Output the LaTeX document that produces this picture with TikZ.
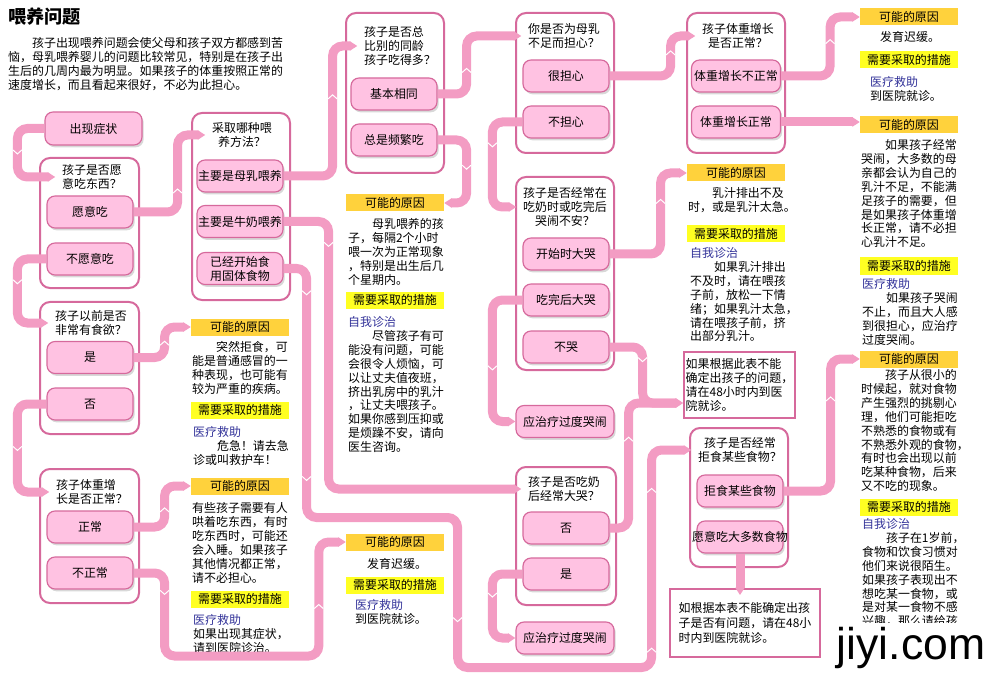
\documentclass[tikz,border=0pt]{standalone}
\usepackage{fontspec}
\setmainfont{Noto Sans CJK SC}
\newfontfamily\wmfont{Liberation Sans}
\usetikzlibrary{arrows.meta,calc,shadows,decorations.markings}
\definecolor{bandpink}{HTML}{F39CC3}
\definecolor{edgepink}{HTML}{D6699C}
\definecolor{btnpink}{HTML}{FFC2E2}
\definecolor{whyyellow}{HTML}{FFD23C}
\definecolor{actyellow}{HTML}{FFFF22}
\definecolor{navy}{HTML}{333399}
\tikzset{grp/.style = {draw=edgepink, line width=0.6mm, rounded corners=3mm,
                       fill=white, minimum width=29.7mm},
         btn/.style = {draw=edgepink, line width=0.35mm, rounded corners=2.4mm,
                       fill=btnpink, minimum width=25.8mm, minimum height=9.6mm,
                       inner sep=0pt, align=center,
                       drop shadow={shadow xshift=0.5mm, shadow yshift=-0.7mm,
                                    fill=black!30}},
         ques/.style = {align=center, inner xsep=2mm, inner ysep=0pt},
         head/.style = {minimum width=29.4mm, minimum height=5.1mm, inner sep=0pt},
         why/.style = {head, fill=whyyellow},
         act/.style = {head, fill=actyellow},
         txt/.style = {align=left, inner sep=0pt, anchor=north west},
         note/.style = {draw=edgepink, line width=0.6mm, fill=white, align=left},
         band/.style = {draw=bandpink, line width=2.7mm, rounded corners=3mm,
                        -{Triangle[length=2.2mm, width=2.7mm]}},
         chev/.style = {postaction={decorate, decoration={markings,
                        mark=at position #1 with {\draw[white, line width=0.3mm,
                        sharp corners, -] (-0.9mm,-1.35mm) -- (0.3mm,0) -- (-0.9mm,1.35mm);}}}}}
\begin{document}
\begin{tikzpicture}[x=0.3mm, y=-0.3mm, font=\fontsize{10.2}{11.9}\selectfont]
  \useasboundingbox (0,0) rectangle (997,675);

  \node[anchor=west, inner sep=0pt, font=\fontsize{15.5}{16}\selectfont\bfseries] (title) at (8,17) {喂养问题};
  \node[txt] (intro) at (8,37) {\hspace*{2em}孩子出现喂养问题会使父母和孩子双方都感到苦\\恼，母乳喂养婴儿的问题比较常见，特别是在孩子出\\生后的几周内最为明显。如果孩子的体重按照正常的\\速度增长，而且看起来很好，不必为此担心。};

  \node[btn, minimum width=29.1mm, minimum height=9.9mm] (sym) at (93.5,128.5) {出现症状};
  \node[grp, minimum height=39mm] (g1) at (89.5,223) {};
  \node[ques] (q1) at (92,177) {孩子是否愿\\意吃东西？};
  \node[btn] (yes1) at (90,212) {愿意吃};
  \node[btn] (no1) at (90,259) {不愿意吃};
  \node[grp, minimum height=39.6mm] (g2) at (89.5,368) {};
  \node[ques] (q2) at (91,323) {孩子以前是否\\非常有食欲？};
  \node[btn] (yes2) at (90,357.5) {是};
  \node[btn] (no2) at (90,404) {否};
  \node[grp, minimum height=40.2mm] (g3) at (89.5,536) {};
  \node[ques, align=left] (q3) at (92,492) {孩子体重增\\长是否正常？};
  \node[btn] (norm) at (90,527) {正常};
  \node[btn] (abn) at (90,573) {不正常};

  \node[grp, minimum width=29.4mm, minimum height=56.1mm] (g4) at (241,206.5) {};
  \node[ques] (q4) at (242,135) {采取哪种喂\\养方法？};
  \node[btn] (breast) at (240,176) {主要是母乳喂养};
  \node[btn] (bottle) at (240,221.5) {主要是牛奶喂养};
  \node[btn] (solid) at (240,268.5) {已经开始食\\用固体食物};
  \node[why] (why1) at (240,327) {可能的原因};
  \node[txt] (t1) at (192,341) {\hspace*{2em}突然拒食，可\\能是普通感冒的一\\种表现，也可能有\\较为严重的疾病。};
  \node[act] (act1) at (240,410) {需要采取的措施};
  \node[txt] (t2) at (193,426) {\textcolor{navy}{医疗救助}\\\hspace*{2em}危急！请去急\\诊或叫救护车！};
  \node[why] (why2) at (240,486) {可能的原因};
  \node[txt] (t3) at (192,502) {有些孩子需要有人\\哄着吃东西，有时\\吃东西时，可能还\\会入睡。如果孩子\\其他情况都正常，\\请不必担心。};
  \node[act] (act2) at (240,599) {需要采取的措施};
  \node[txt] (t4) at (193,614) {\textcolor{navy}{医疗救助}\\如果出现其症状，\\请到医院诊治。};

  \node[grp, minimum width=29.4mm, minimum height=48mm] (g5) at (395,93) {};
  \node[ques, align=left] (q5) at (400,46) {孩子是否总\\比别的同龄\\孩子吃得多？};
  \node[btn] (same) at (394,94) {基本相同};
  \node[btn] (often) at (394,140) {总是频繁吃};
  \node[why] (why3) at (395,203) {可能的原因};
  \node[txt] (t5) at (348,218) {\hspace*{2em}母乳喂养的孩\\子，每隔2个小时\\喂一次为正常现象\\，特别是出生后几\\个星期内。};
  \node[act] (act3) at (395,300) {需要采取的措施};
  \node[txt] (t6) at (348,316) {\textcolor{navy}{自我诊治}\\\hspace*{2em}尽管孩子有可\\能没有问题，可能\\会很令人烦恼，可\\以让丈夫值夜班，\\挤出乳房中的乳汁\\，让丈夫喂孩子。\\如果你感到压抑或\\是烦躁不安，请向\\医生咨询。};
  \node[why] (why4) at (395,542) {可能的原因};
  \node[anchor=west, inner sep=0pt] (t7) at (367,564) {发育迟缓。};
  \node[act] (act4) at (395,585) {需要采取的措施};
  \node[txt] (t8) at (355,599) {\textcolor{navy}{医疗救助}\\到医院就诊。};

  \node[grp, minimum width=29.4mm, minimum height=42mm] (g6) at (565,83) {};
  \node[ques] (q6) at (564,36) {你是否为母乳\\不足而担心？};
  \node[btn] (worry) at (566,76) {很担心};
  \node[btn] (noworry) at (566,122) {不担心};
  \node[grp, minimum width=29.4mm, minimum height=57.9mm] (g7) at (565,273.5) {};
  \node[ques] (q7) at (565,207) {孩子是否经常在\\吃奶时或吃完后\\哭闹不安？};
  \node[btn] (start) at (566,254) {开始时大哭};
  \node[btn] (after) at (566,300) {吃完后大哭};
  \node[btn] (none) at (566,347) {不哭};
  \node[btn, minimum width=29.4mm] (treat1) at (565,421.5) {应治疗过度哭闹};
  \node[grp, minimum width=30mm, minimum height=41.4mm] (g8) at (566,536) {};
  \node[ques] (q8) at (564,489) {孩子是否吃奶\\后经常大哭？};
  \node[btn] (c4no) at (566,528) {否};
  \node[btn] (c4yes) at (566,574) {是};
  \node[btn, minimum width=29.4mm] (treat2) at (565,638) {应治疗过度哭闹};

  \node[grp, minimum width=29.4mm, minimum height=42mm] (g9) at (736,83) {};
  \node[ques] (q9) at (738,36) {孩子体重增长\\是否正常？};
  \node[btn, minimum width=26.7mm] (abnw) at (736,76) {体重增长不正常};
  \node[btn, minimum width=26.7mm] (normw) at (736,122) {体重增长正常};
  \node[why] (why5) at (736,173) {可能的原因};
  \node[txt] (t9) at (688,187) {\hspace*{2em}乳汁排出不及\\时，或是乳汁太急。};
  \node[act] (act5) at (736,234) {需要采取的措施};
  \node[txt] (t10) at (690,247) {\textcolor{navy}{自我诊治}\\\hspace*{2em}如果乳汁排出\\不及时，请在喂孩\\子前，放松一下情\\绪；如果乳汁太急，\\请在喂孩子前，挤\\出部分乳汁。};
  \node[note, minimum width=32.7mm, minimum height=19.8mm, inner xsep=0.5mm] (note1) at (739.5,385) {如果根据此表不能\\确定出孩子的问题，\\请在48小时内到医\\院就诊。};
  \node[grp, minimum width=29.4mm, minimum height=41.7mm] (g10) at (739,497.5) {};
  \node[ques] (q10) at (740,450) {孩子是否经常\\拒食某些食物？};
  \node[btn] (refuse) at (740,491) {拒食某些食物};
  \node[btn] (many) at (740,537) {\makebox[0pt]{愿意吃大多数食物}};
  \node[note, minimum width=45mm, minimum height=20.4mm, inner xsep=2.7mm, font=\fontsize{10.2}{12.8}\selectfont] (note2) at (745,623) {如根据本表不能确定出孩\\子是否有问题，请在48小\\时内到医院就诊。};

  \node[why] (why6) at (909,17) {可能的原因};
  \node[anchor=west, inner sep=0pt] (t11) at (880,37) {发育迟缓。};
  \node[act] (act6) at (909,60) {需要采取的措施};
  \node[txt] (t12) at (870,76) {\textcolor{navy}{医疗救助}\\到医院就诊。};
  \node[why] (why7) at (909,125) {可能的原因};
  \node[txt] (t13) at (861,139) {\hspace*{2em}如果孩子经常\\哭闹，大多数的母\\亲都会认为自己的\\乳汁不足，不能满\\足孩子的需要，但\\是如果孩子体重增\\长正常，请不必担\\心乳汁不足。};
  \node[act] (act7) at (909,266) {需要采取的措施};
  \node[txt] (t14) at (862,278) {\textcolor{navy}{医疗救助}\\\hspace*{2em}如果孩子哭闹\\不止，而且大人感\\到很担心，应治疗\\过度哭闹。};
  \node[why] (why8) at (909,359) {可能的原因};
  \node[txt] (t15) at (861,369) {\hspace*{2em}孩子从很小的\\时候起，就对食物\\产生强烈的挑剔心\\理，他们可能拒吃\\不熟悉的食物或有\\不熟悉外观的食物，\\有时也会出现以前\\吃某种食物，后来\\又不吃的现象。};
  \node[act] (act8) at (909,507) {需要采取的措施};
  \begin{scope}
    \clip (850,510) rectangle (997,622);
    \node[txt] (t16) at (862,518) {\textcolor{navy}{自我诊治}\\\hspace*{2em}孩子在1岁前，\\食物和饮食习惯对\\他们来说很陌生。\\如果孩子表现出不\\想吃某一食物，或\\是对某一食物不感\\兴趣，那么请给孩};
  \end{scope}
  \node[font=\wmfont\fontsize{38}{38}\selectfont, inner sep=0pt] (site) at (911,648) {jiyi.com};

  \draw[band, chev=0.45] (sym.west) -- ++(-27,0) |- (q1.west);
  \draw[band, chev=0.44] (yes1.east) -- ++(44,0) |- (q4.west);
  \draw[band, chev=0.42] (no1.west) -- ++(-29,0) |- (q2.west);
  \draw[band, chev=0.53] (yes2.east) -- ++(31,0) |- (why1.west);
  \draw[band, chev=0.5] (no2.west) -- ++(-29,0) |- (q3.west);
  \draw[band, chev=0.5] (norm.east) -- ++(31,0) |- (why2.west);
  \draw[band, chev=0.12, chev=0.78] (abn.east) -- ++(31,0) -- ++(0,83) -| ($(why4.west)+(-27,0)$) -- (why4.west);
  \draw[band, chev=0.64] (breast.east) -- ++(49,0) |- (q5.west);
  \draw[band, chev=0.13] (bottle.east) -- ++(45,0) |- (q8.west);
  \draw[band, chev=0.044, chev=0.23, chev=0.514, chev=0.765, chev=0.925] (solid.east) -- ++(23,0) -- ++(0,249) -- ++(151,0) -- ++(0,150) -- ++(194,0) |- (q10.west);
  \draw[band, chev=0.37] (same.east) -- ++(29,0) |- (q6.west);
  \draw[band, chev=0.5] (often.east) -- ++(29,0) |- (why3.east);
  \draw[band, chev=0.69] (worry.east) -- ++(61,0) |- (q9.west);
  \draw[band, chev=0.38] (noworry.west) -- ++(-30,0) |- (q7.west);
  \draw[band, chev=0.67] (start.east) -- ++(51,0) |- (why5.west);
  \draw[band, chev=0.57] (after.west) -- ++(-30,0) |- (treat1.west);
  \draw[band, chev=0.35] (none.east) -- ++(33,0) |- ($(note1.west)+(0,18)$);
  \draw[band, chev=0.55] (c4no.east) -- ++(19,0) |- ($(note1.west)+(0,18)$);
  \draw[band, chev=0.44] (c4yes.west) -- ++(-30,0) |- (treat2.west);
  \draw[band, chev=0.62] (abnw.east) -- ++(49,0) |- (why6.west);
  \draw[band] (normw.east) -- (normw.east -| why7.west);
  \draw[band, chev=0.68] (refuse.east) -- ++(47,0) |- (why8.west);
  \draw[band] (many.south) -- ($(many.south |- note2.north)+(0,7)$);
\end{tikzpicture}
\end{document}
